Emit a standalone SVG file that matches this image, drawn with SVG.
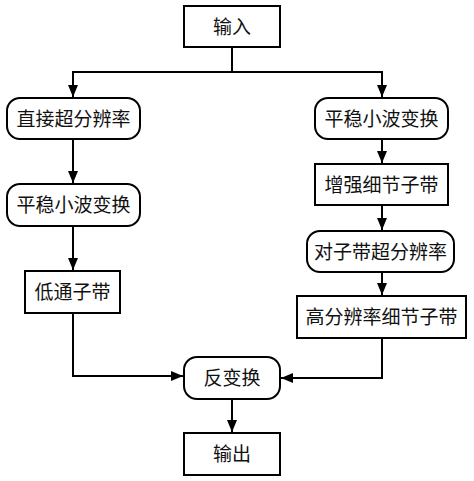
<svg xmlns="http://www.w3.org/2000/svg" width="474" height="481" viewBox="0 0 474 481">
<style>
.b{fill:#fff;stroke:#000;stroke-width:2}
.t{font-family:"Liberation Serif","Noto Sans CJK SC",serif;font-size:19px;text-anchor:middle;dominant-baseline:central;fill:#111}
.c{fill:none;stroke:#000;stroke-width:2}
</style>
<defs>
<marker id="a" viewBox="0 0 12 10" refX="12" refY="5" markerWidth="12" markerHeight="10" markerUnits="userSpaceOnUse" orient="auto">
<path d="M0,0 L12,5 L0,10 Z" fill="#000"/>
</marker>
</defs>
<rect width="474" height="481" fill="#fff"/>
<g id="connectors">
<path class="c" d="M232,47 V72"/>
<path class="c" d="M232,72 H73 V97" marker-end="url(#a)"/>
<path class="c" d="M232,72 H382 V97" marker-end="url(#a)"/>
<path class="c" d="M73,139 V183" marker-end="url(#a)"/>
<path class="c" d="M73,226 V270" marker-end="url(#a)"/>
<path class="c" d="M382,139 V163" marker-end="url(#a)"/>
<path class="c" d="M382,205 V230" marker-end="url(#a)"/>
<path class="c" d="M382,272 V295" marker-end="url(#a)"/>
<path class="c" d="M73,313 V376 H183" marker-end="url(#a)"/>
<path class="c" d="M382,338 V378 H281" marker-end="url(#a)"/>
<path class="c" d="M232,399 V432" marker-end="url(#a)"/>
</g>
<g id="n1"><rect class="b" x="184" y="6" width="96" height="41"/><text class="t" x="232" y="27">输入</text></g>
<g id="n2"><rect class="b" x="7" y="98" width="133" height="41" rx="13"/><text class="t" x="73.5" y="119">直接超分辨率</text></g>
<g id="n3"><rect class="b" x="315" y="98" width="133" height="41" rx="13"/><text class="t" x="381.5" y="119">平稳小波变换</text></g>
<g id="n4"><rect class="b" x="7" y="184" width="133" height="42" rx="13"/><text class="t" x="73.5" y="205">平稳小波变换</text></g>
<g id="n5"><rect class="b" x="25" y="271" width="95" height="42"/><text class="t" x="72.5" y="292">低通子带</text></g>
<g id="n6"><rect class="b" x="315" y="164" width="133" height="41"/><text class="t" x="381.5" y="185">增强细节子带</text></g>
<g id="n7"><rect class="b" x="307" y="231" width="147" height="41" rx="13"/><text class="t" x="380.5" y="252">对子带超分辨率</text></g>
<g id="n8"><rect class="b" x="297" y="296" width="169" height="42"/><text class="t" x="381.5" y="317">高分辨率细节子带</text></g>
<g id="n9"><rect class="b" x="184" y="357" width="96" height="42" rx="13"/><text class="t" x="232" y="378">反变换</text></g>
<g id="n10"><rect class="b" x="184" y="433" width="96" height="42"/><text class="t" x="232" y="454">输出</text></g>
</svg>
